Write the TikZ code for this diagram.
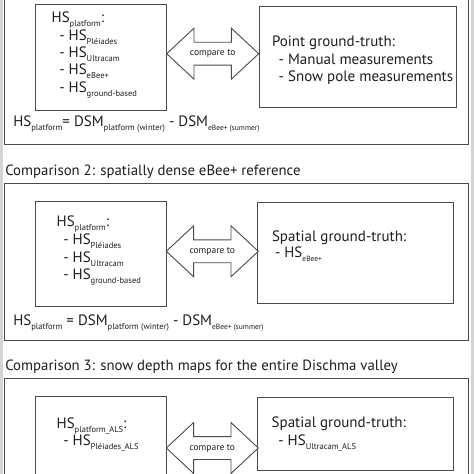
\documentclass[tikz,border=0pt]{standalone}
\usepackage{fontspec}
\setmainfont{PT Sans}
\usetikzlibrary{shapes.arrows}
\definecolor{linec}{HTML}{4A4A4A}
\definecolor{textc}{HTML}{1E1E1E}
\definecolor{stripc}{HTML}{D4D4D4}
\newcommand\mysub[2][8.5]{\raisebox{-4pt}{\fontsize{#1}{#1}\selectfont #2}}
\tikzset{
  outerbox/.style={draw=linec, line width=1pt, outer sep=0pt, inner sep=0pt, anchor=north west},
  innerbox/.style={draw=linec, line width=0.9pt, outer sep=0pt, inner sep=0pt, anchor=north west},
  txt/.style={anchor=base west, inner sep=0pt, outer sep=0pt, text=textc, font=\fontsize{15}{15}\selectfont},
  ttl/.style={anchor=base west, inner sep=0pt, outer sep=0pt, text=textc, font=\fontsize{14.8}{14.8}\selectfont},
  cmparrow/.style={double arrow, draw=linec, line width=0.9pt, fill=white, minimum height=92pt,
    double arrow head extend=14pt, double arrow tip angle=86, inner xsep=0pt, inner ysep=11pt,
    text height=0pt, text depth=0pt, outer sep=0pt},
  cmptxt/.style={inner sep=0pt, text=textc, font=\fontsize{9.5}{9.5}\selectfont}
}
\begin{document}
\begin{tikzpicture}[x=1pt,y=-1pt]
\useasboundingbox (0,0) rectangle (474,474);
\clip (0,0) rectangle (474,474);
\fill[white] (0,0) rectangle (474,474);
\fill[stripc] (0,0) rectangle (3,474);
\fill[stripc] (471,0) rectangle (474,474);

% ---------- Comparison 1 ----------
\node[outerbox, minimum width=464.7pt, minimum height=154pt] (O1) at (4,-10) {};
\node[innerbox, minimum width=130.3pt, minimum height=105.3pt] (L1) at (35.7,4.7) {};
\node[innerbox, minimum width=196.3pt, minimum height=100.6pt] (R1) at (259.7,6.7) {};
\node[cmparrow] (A1) at (212.7,53.7) {};
\node[cmptxt] (C1) at (A1.center) {compare to};
\node[txt] (L1a) at (51.7,22.5) {HS\mysub{platform}:};
\node[txt] (L1b) at (59.3,40) {- HS\mysub{Pléiades}};
\node[txt] (L1c) at (59.3,57.3) {- HS\mysub{Ultracam}};
\node[txt] (L1d) at (59.3,74.6) {- HS\mysub{eBee+}};
\node[txt] (L1e) at (59.3,92) {- HS\mysub{ground-based}};
\node[txt] (R1a) at (272,46.7) {Point ground-truth:};
\node[txt] (R1b) at (278.7,64) {- Manual measurements};
\node[txt] (R1c) at (278.7,81.5) {- Snow pole measurements};
\node[txt] (F1) at (13.3,126) {HS\mysub{platform}= DSM\mysub{platform (winter)} - DSM\mysub[7.5]{eBee+ (summer)}};

% ---------- Comparison 2 ----------
\node[ttl] (T2) at (5.3,175) {Comparison 2: spatially dense eBee+ reference};
\node[outerbox, minimum width=464.7pt, minimum height=156.7pt] (O2) at (4,183.3) {};
\node[innerbox, minimum width=130.3pt, minimum height=104.3pt] (L2) at (35.7,201.7) {};
\node[innerbox, minimum width=196pt, minimum height=100.6pt] (R2) at (257.7,202.7) {};
\node[cmparrow] (A2) at (212.3,251.3) {};
\node[cmptxt] (C2) at (A2.center) {compare to};
\node[txt] (L2a) at (56.7,226.7) {HS\mysub{platform}:};
\node[txt] (L2b) at (63.3,244.5) {- HS\mysub{Pléiades}};
\node[txt] (L2c) at (63.3,262) {- HS\mysub{Ultracam}};
\node[txt] (L2d) at (63.3,279.5) {- HS\mysub{ground-based}};
\node[txt] (R2a) at (272,241.7) {Spatial ground-truth:};
\node[txt] (R2b) at (275,257.5) {- HS\mysub[7.5]{eBee+}};
\node[txt] (F2) at (13.3,325) {HS\mysub{platform} = DSM\mysub{platform (winter)} - DSM\mysub[7.5]{eBee+ (summer)}};

% ---------- Comparison 3 ----------
\node[ttl] (T3) at (5.3,370) {Comparison 3: snow depth maps for the entire Dischma valley};
\node[outerbox, minimum width=464.7pt, minimum height=120pt] (O3) at (4,378.3) {};
\node[innerbox, minimum width=130.3pt, minimum height=104pt] (L3) at (35.7,396.7) {};
\node[innerbox, minimum width=196pt, minimum height=72.3pt] (R3) at (257.7,397.7) {};
\node[cmparrow] (A3) at (212.3,448) {};
\node[cmptxt] (C3) at (A3.center) {compare to};
\node[txt] (L3a) at (56.7,428) {HS\mysub{platform\_ALS}:};
\node[txt] (L3b) at (63.3,445) {- HS\mysub{Pléiades\_ALS}};
\node[txt] (R3a) at (271.7,427) {Spatial ground-truth:};
\node[txt] (R3b) at (278.3,445) {- HS\mysub{Ultracam\_ALS}};
\end{tikzpicture}
\end{document}
